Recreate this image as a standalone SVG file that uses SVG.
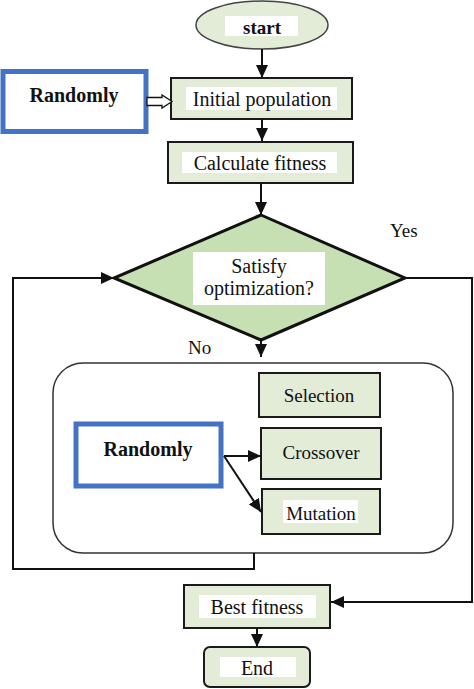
<svg xmlns="http://www.w3.org/2000/svg" width="474" height="689" viewBox="0 0 474 689">
<style>
.box{fill:#e2ecd7;stroke:#1a1a1a;stroke-width:2}
.inner{fill:#ffffff;stroke:none}
.blue{fill:#ffffff;stroke:#4472c4;stroke-width:5}
.t{font-family:"Liberation Serif","Times New Roman",serif;font-size:20px;fill:#111;text-anchor:middle}
.b{font-weight:bold}
.l{font-family:"Liberation Serif","Times New Roman",serif;font-size:19px;fill:#111}
.c{fill:none;stroke:#111;stroke-width:2}
</style>
<defs>
<marker id="ah" markerWidth="13" markerHeight="12" refX="13" refY="6" orient="auto" markerUnits="userSpaceOnUse">
<path d="M0,0 L13,6 L0,12 Z" fill="#111"/>
</marker>
</defs>
<rect width="474" height="689" fill="#ffffff"/>
<g id="start">
<ellipse cx="262" cy="25" rx="66" ry="24" fill="#e2ecd7" stroke="#444" stroke-width="1.5"/>
<rect class="inner" x="225" y="16" width="73" height="20"/>
<text class="t b" x="262" y="34" style="font-size:19px">start</text>
</g>
<g id="randomly1">
<rect class="blue" x="3" y="71.5" width="143" height="60"/>
<text class="t b" x="74" y="102">Randomly</text>
</g>
<g id="initial">
<rect class="box" x="171" y="78" width="181" height="41"/>
<rect class="inner" x="186" y="87" width="151" height="23"/>
<text class="t" x="262" y="106">Initial population</text>
</g>
<g id="calc">
<rect class="box" x="168" y="142" width="185" height="41"/>
<rect class="inner" x="182" y="152" width="155" height="21"/>
<text class="t" x="260" y="170">Calculate fitness</text>
</g>
<g id="decision">
<polygon points="261,215 405,278 261,340 114,278" fill="#c6dfb3" stroke="#111" stroke-width="3"/>
<rect class="inner" x="193" y="252" width="132" height="53"/>
<text class="t" x="259" y="273">Satisfy</text>
<text class="t" x="259" y="295">optimization?</text>
</g>
<g id="group">
<rect x="53" y="363" width="400" height="190" rx="30" ry="30" fill="#ffffff" stroke="#333" stroke-width="1.5"/>
</g>
<g id="selection">
<rect class="box" x="259" y="373" width="121" height="44"/>
<text class="t" x="319" y="402" style="font-size:19px">Selection</text>
</g>
<g id="crossover">
<rect class="box" x="261" y="428" width="120" height="51"/>
<text class="t" x="321" y="459" style="font-size:19px">Crossover</text>
</g>
<g id="mutation">
<rect class="box" x="262" y="489" width="118" height="45"/>
<rect class="inner" x="283" y="500" width="75" height="23"/>
<text class="t" x="321" y="520" style="font-size:19px">Mutation</text>
</g>
<g id="randomly2">
<rect class="blue" x="76" y="424" width="145" height="62"/>
<text class="t b" x="148" y="456">Randomly</text>
</g>
<g id="best">
<rect class="box" x="184" y="585" width="146" height="43"/>
<rect class="inner" x="199" y="595" width="117" height="23"/>
<text class="t" x="257" y="614">Best fitness</text>
</g>
<g id="end">
<rect class="box" x="204" y="647" width="106" height="40" rx="6" ry="6"/>
<rect class="inner" x="220" y="657" width="76" height="20"/>
<text class="t" x="257" y="675">End</text>
</g>
<g id="connectors">
<line class="c" x1="262" y1="49" x2="262" y2="78" marker-end="url(#ah)"/>
<line class="c" x1="262" y1="119" x2="262" y2="141" marker-end="url(#ah)"/>
<line class="c" x1="261" y1="183" x2="261" y2="215" marker-end="url(#ah)"/>
<line class="c" x1="261" y1="340" x2="261" y2="357" marker-end="url(#ah)"/>
<polyline class="c" points="405,278 472,278 472,602 331,602" marker-end="url(#ah)"/>
<polyline class="c" points="254,553 254,569 13,569 13,278 114,278" marker-end="url(#ah)"/>
<line class="c" x1="257" y1="628" x2="257" y2="647" marker-end="url(#ah)"/>
<line class="c" x1="224" y1="456" x2="261" y2="456" marker-end="url(#ah)"/>
<line class="c" x1="224" y1="456" x2="261" y2="512" marker-end="url(#ah)"/>
<path d="M147,97.5 L162,97.5 L162,95 L172,101.5 L162,108 L162,105.5 L147,105.5 Z" fill="#ffffff" stroke="#111" stroke-width="1.3"/>
</g>
<g id="labels">
<text class="l" x="390" y="237">Yes</text>
<text class="l" x="188" y="354">No</text>
</g>
</svg>
